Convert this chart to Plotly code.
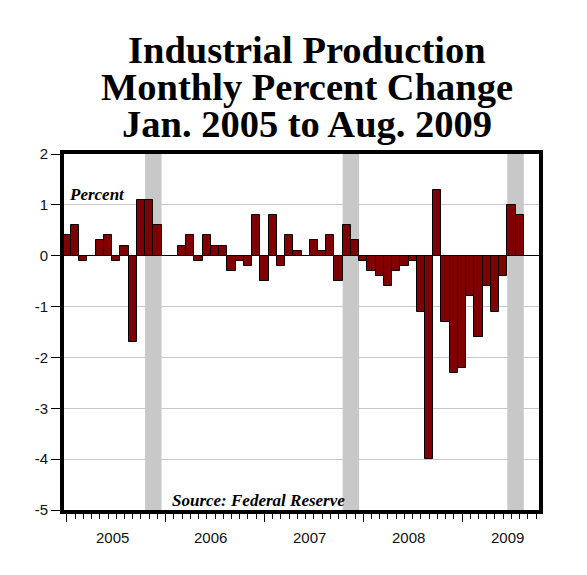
import plotly.graph_objects as go

# monthly percent change, Jan 2005 .. Aug 2009
months = list(range(56))
pct_change = [
    0.4, 0.6, -0.1, 0.0, 0.3, 0.4, -0.1, 0.2, -1.7, 1.1, 1.1, 0.6,     # 2005
    0.0, 0.0, 0.2, 0.4, -0.1, 0.4, 0.2, 0.2, -0.3, -0.1, -0.2, 0.8,    # 2006
    -0.5, 0.8, -0.2, 0.4, 0.1, 0.0, 0.3, 0.1, 0.4, -0.5, 0.6, 0.3,     # 2007
    -0.1, -0.3, -0.4, -0.6, -0.3, -0.2, -0.1, -1.1, -4.0, 1.3, -1.3, -2.3,  # 2008
    -2.2, -0.8, -1.6, -0.6, -1.1, -0.4, 1.0, 0.8,                      # 2009
]
years = ['2005', '2006', '2007', '2008', '2009']
year_start = [0, 12, 24, 36, 48]
year_mid = [5.5, 17.5, 29.5, 41.5, 53.5]
y_ticks = [2, 1, 0, -1, -2, -3, -4, -5]
y_labels = ['2', '1', '0', '-1', '-2', '-3', '-4', '-5']
# shaded months (first, last month index)
shaded = [(10, 11), (34, 35), (54, 55)]
title_lines = ['Industrial Production', 'Monthly Percent Change', 'Jan. 2005 to Aug. 2009']

serif = 'Liberation Serif'
sans = 'Arial, Liberation Sans'

fig = go.Figure()
fig.add_trace(go.Bar(x=months, y=pct_change,
                     marker=dict(color='#800000', line=dict(color='black', width=1)),
                     hoverinfo='y'))

for a, b in shaded:
    fig.add_shape(type='rect', xref='x', yref='paper', x0=a - 0.5, x1=b + 0.5,
                  y0=0, y1=1, fillcolor='#c8c8c8', line_width=0, layer='below')

for yr, xm in zip(years, year_mid):
    fig.add_annotation(x=xm, y=0, xref='x', yref='paper', yshift=-27,
                       yanchor='middle', text=yr, showarrow=False,
                       font=dict(family=sans, size=15, color='#111'))

# title, one annotation per line so the line spacing can be set
for line, shift in zip(title_lines, [104, 67, 30]):
    fig.add_annotation(x=0.511, y=1, xref='paper', yref='paper', yshift=shift,
                       xanchor='center', yanchor='middle', showarrow=False,
                       text='<b>' + line + '</b>',
                       font=dict(family=serif, size=38.5, color='black'))

fig.add_annotation(x=0, y=0.887, xref='paper', yref='paper', xanchor='left',
                   xshift=3, yanchor='middle',
                   text='<b><i>Percent</i></b>', showarrow=False,
                   font=dict(family=serif, size=17, color='black'))
fig.add_annotation(x=0.223, y=0.028, xref='paper', yref='paper', xanchor='left',
                   yanchor='middle', text='<b><i>Source: Federal Reserve</i></b>',
                   showarrow=False, font=dict(family=serif, size=17, color='black'))

layout = go.Layout(
    width=579, height=567,
    margin=dict(l=56, r=48, t=146, b=65),
    paper_bgcolor='white', plot_bgcolor='white',
    showlegend=False, bargap=0,
    xaxis=dict(range=[-0.35, 57.35], tickvals=year_start, ticktext=['' for _ in years],
               ticks='outside', ticklen=8, tickcolor='black', tickwidth=1,
               minor=dict(ticks='outside', ticklen=5, dtick=1, tick0=0,
                          tickcolor='black', tickwidth=1, showgrid=False),
               showgrid=False, zeroline=False,
               showline=True, linewidth=4, linecolor='black', mirror=True),
    yaxis=dict(range=[-5, 2], tickvals=y_ticks, ticktext=y_labels,
               ticks='outside', ticklen=9, tickcolor='black',
               tickfont=dict(family=sans, size=15, color='#111'),
               showgrid=True, gridcolor='#c8c8c8', gridwidth=1,
               zeroline=True, zerolinecolor='black', zerolinewidth=1,
               showline=True, linewidth=4, linecolor='black', mirror=True),
)
fig.update_layout(layout)
fig.write_html('out.html')
